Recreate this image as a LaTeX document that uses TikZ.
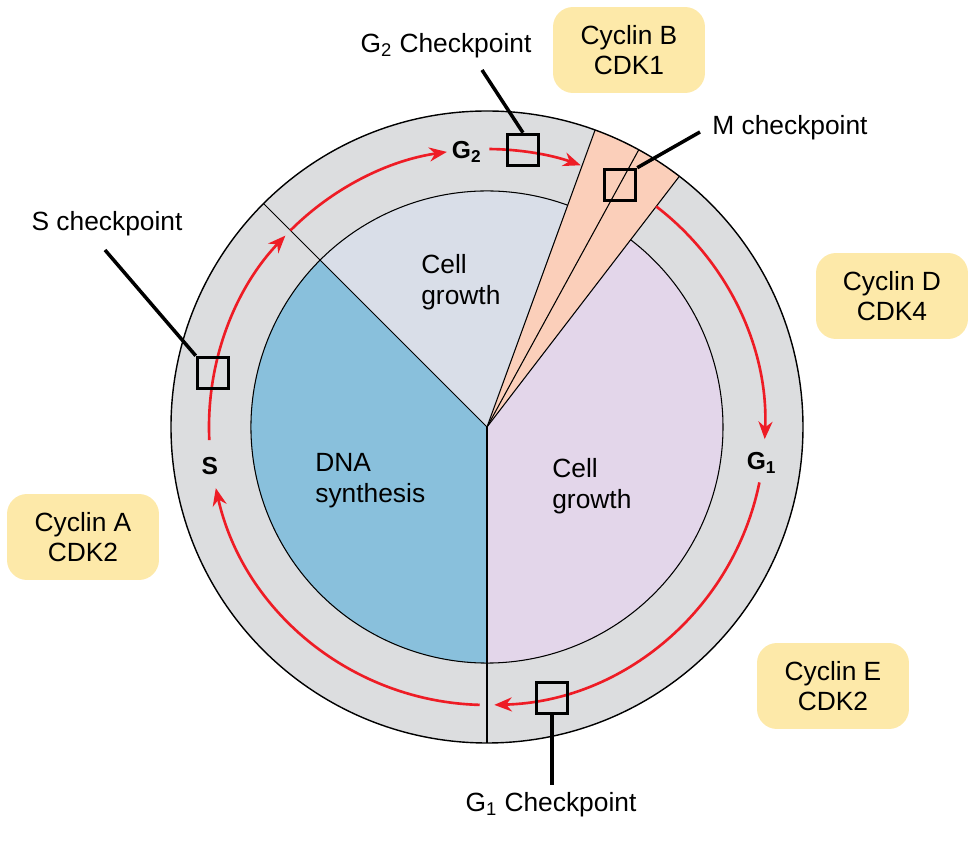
\documentclass[tikz,border=0pt]{standalone}
\usepackage{fontspec}
\setmainfont{Liberation Sans}
\usetikzlibrary{arrows.meta, positioning}
\definecolor{ringgray}{HTML}{DCDDDF}
\definecolor{dnablue}{HTML}{89C0DC}
\definecolor{gtwogray}{HTML}{D9DEE8}
\definecolor{gonelilac}{HTML}{E3D6EA}
\definecolor{mpink}{HTML}{FBCFBA}
\definecolor{cycyellow}{HTML}{FDE9A9}
\definecolor{cyclered}{HTML}{EE1C25}

\begin{document}
\begin{tikzpicture}[x=0.02cm, y=0.02cm,
  txt/.style={font=\fontsize{15}{17.5}\selectfont, align=left, inner sep=0pt},
  phase/.style={font=\fontsize{14}{16}\selectfont\bfseries, inner sep=0pt},
  cyclinbox/.style={fill=cycyellow, rounded corners=0.4cm, minimum width=3.04cm,
    minimum height=1.72cm, align=center, font=\fontsize{15}{17.5}\selectfont},
  checkbox/.style={draw, line width=2pt, minimum size=0.62cm, inner sep=0pt},
  leader/.style={line width=2pt},
  flow/.style={cyclered, line width=1.5pt, -{Stealth[length=10pt, width=8pt]}}]
  \useasboundingbox (-487,-428) rectangle (488,427);
  \coordinate (c) at (0,0);

  % ring and sectors
  \fill[ringgray] (c) circle[radius=316];
  \fill[mpink] (c) -- (52.5:316) arc[start angle=52.5, end angle=70, radius=316] -- cycle;
  \fill[dnablue] (c) -- (135:236) arc[start angle=135, end angle=270, radius=236] -- cycle;
  \fill[gonelilac] (c) -- (-90:236) arc[start angle=-90, end angle=52.5, radius=236] -- cycle;
  \fill[gtwogray] (c) -- (70:236) arc[start angle=70, end angle=135, radius=236] -- cycle;
  \draw[line width=0.8pt] (c) circle[radius=316];
  \draw[line width=0.6pt] (70:236) arc[start angle=70, end angle=412.5, radius=236];
  \foreach \a in {52.5, 61.3, 70, 135, 270}
    \draw[line width=0.6pt] (c) -- (\a:316);

  % red arrows round the cycle
  \foreach \from/\to in {52.5/-2.5, -11.5/-88.5, -91.5/-167.3, 182.7/136.5, 135/98.3, 89.5/70.3}
    \draw[flow] (\from:278) arc[start angle=\from, end angle=\to, radius=278];

  % phase labels
  \node[phase] (g1) at (-7.5:277) {G\textsubscript{1}};
  \node[phase] (s) at (188:280) {S};
  \node[phase] (g2) at (94.2:276) {G\textsubscript{2}};

  % sector labels
  \node[txt, anchor=north west] (topgrowth) at (-66,173) {Cell\\growth};
  \node[txt, anchor=north west] (dna) at (-172,-26) {DNA\\synthesis};
  \node[txt, anchor=north west] (rightgrowth) at (65,-31) {Cell\\growth};

  % checkpoints
  \node[checkbox] (g2chk) at (36,277) {};
  \node[checkbox] (mchk) at (133,242) {};
  \node[checkbox] (schk) at (-274,54) {};
  \node[checkbox] (g1chk) at (65,-271) {};

  \coordinate (g2end) at (-5,357);
  \coordinate (mend) at (213,295);
  \coordinate (send) at (-382,177);
  \coordinate (g1end) at (65,-358);
  \draw[leader] (g2chk.north) -- (g2end);
  \draw[leader] (mchk.north east) -- (mend);
  \draw[leader] (schk.north west) -- (send);
  \draw[leader] (g1chk.south) -- (g1end);

  \node[txt] (g2lab) at (-41,381) {G\textsubscript{2} Checkpoint};
  \node[txt, anchor=west] (mlab) at (225,299) {M checkpoint};
  \node[txt] (slab) at (-380,203) {S checkpoint};
  \node[txt] (g1lab) at (64,-378) {G\textsubscript{1} Checkpoint};

  % cyclin / CDK pairs
  \node[cyclinbox] (cycb) at (142,377) {Cyclin B\\CDK1};
  \node[cyclinbox] (cycd) at (405,131) {Cyclin D\\CDK4};
  \node[cyclinbox] (cyca) at (-404,-110) {Cyclin A\\CDK2};
  \node[cyclinbox] (cyce) at (346,-259) {Cyclin E\\CDK2};
\end{tikzpicture}
\end{document}
